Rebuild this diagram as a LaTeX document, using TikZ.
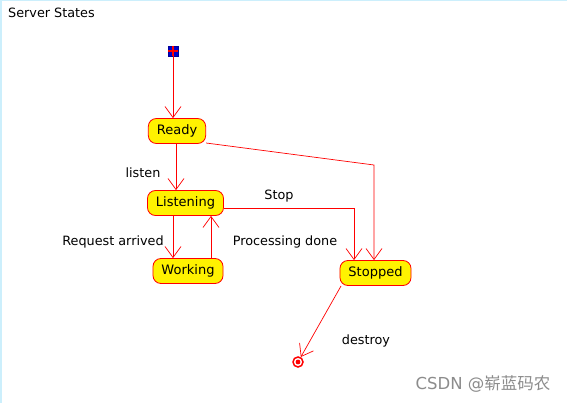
\documentclass[tikz,border=0pt]{standalone}
\usepackage{fontspec}
\setmainfont{DejaVu Sans}
\newfontfamily\cjk{Noto Sans CJK SC}
\usetikzlibrary{arrows.meta}
\begin{document}
\begin{tikzpicture}[x=1pt,y=-1pt,
  state/.style={draw=red, fill=yellow, rounded corners=8pt, line width=0.8pt,
    minimum height=25pt, inner xsep=8.5pt, font=\fontsize{13}{15}\selectfont},
  conn/.style={draw=red, line width=0.7pt, -{Straight Barb[length=11pt,width=16pt,line width=0.7pt]}},
  lbl/.style={font=\fontsize{12.8}{15}\selectfont, text=black}]
\useasboundingbox (0,0) rectangle (567,403);
\fill[white] (0,0) rectangle (567,403);
\draw[cyan!20, line width=1.5pt] (0.75,403) -- (0.75,0.75) -- (567,0.75);
\node[lbl, anchor=west, inner xsep=0pt] (title) at (8,13) {Server States};
% initial
\node[draw=blue!60!black, fill=blue!80!black, minimum size=10pt, inner sep=0pt] (init) at (173,51) {};
\draw[red, line width=1.5pt] (init.west) -- (init.east) (init.north) -- (init.south);
% states
\node[state] (ready) at (177,131) {Ready};
\node[state] (listening) at (185.5,203) {Listening};
\node[state] (working) at (188,271) {Working};
\node[state] (stopped) at (375.5,273) {Stopped};
% final
\node[circle, draw=red, line width=1.5pt, minimum size=10pt, inner sep=0pt] (final) at (298,362) {};
\fill[red] (final.center) circle (2.4pt);
% connectors
\draw[conn] (init.south) -- (init.south |- ready.north);
\draw[conn] (ready.south -| 176,0) -- (listening.north -| 176,0);
\coordinate (c1) at (374,165);
\draw[conn] (ready.east |- 0,143) -- (c1) -- (c1 |- stopped.north);
\coordinate (c2) at (354,208);
\draw[conn] (listening.east |- c2) -- (c2) -- (c2 |- stopped.north);
\draw[conn] (listening.south -| 173,0) -- (working.north -| 173,0);
\draw[conn] (working.north -| 211,0) -- (listening.south -| 211,0);
\coordinate (s1) at (341,286);
\draw[conn] (s1) -- (final);
% labels
\node[lbl] (l1) at (143,173) {listen};
\node[lbl] (l2) at (279,196) {Stop};
\node[lbl] (l3) at (113,242) {Request arrived};
\node[lbl] (l4) at (285,242) {Processing done};
\node[lbl] (l5) at (366,341) {destroy};
\node[font=\fontsize{16.5}{18}\selectfont, text=black!45] (wm) at (483,384) {CSDN @{\cjk 崭蓝码农}};
\end{tikzpicture}
\end{document}
